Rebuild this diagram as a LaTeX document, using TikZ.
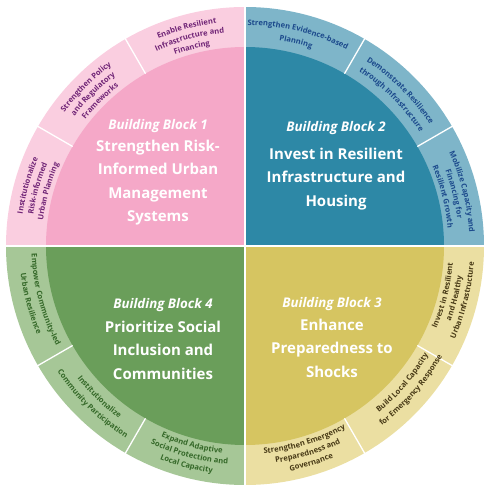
\documentclass[tikz,border=0pt]{standalone}
\usepackage{fontspec}
\setmainfont{Open Sans}
\usetikzlibrary{decorations.text}

\definecolor{pinkin}{RGB}{245,168,200}
\definecolor{pinkring}{RGB}{250,206,224}
\definecolor{pinktxt}{RGB}{112,36,118}
\definecolor{bluein}{RGB}{45,136,166}
\definecolor{bluering}{RGB}{126,181,201}
\definecolor{bluetxt}{RGB}{28,74,140}
\definecolor{yellowin}{RGB}{214,197,97}
\definecolor{yellowring}{RGB}{235,223,162}
\definecolor{yellowtxt}{RGB}{72,58,22}
\definecolor{greenin}{RGB}{106,158,90}
\definecolor{greenring}{RGB}{166,199,151}
\definecolor{greentxt}{RGB}{52,104,40}

\newcommand\ringfont{\bfseries\fontsize{7.6}{8}\selectfont}
% text on the upper half of the ring, read clockwise
\newcommand\ringtop[4]{\path[decorate,decoration={text along path,text align=center,text color=#1,
  text={|\ringfont|#4}}] ({#3+20}:#2) arc[start angle={#3+20},end angle={#3-20},radius=#2];}
% text on the lower half of the ring, read counterclockwise
\newcommand\ringbot[4]{\path[decorate,decoration={text along path,text align=center,text color=#1,
  text={|\ringfont|#4}}] ({#3-20}:#2) arc[start angle={#3-20},end angle={#3+20},radius=#2];}

\begin{document}
\begin{tikzpicture}[x=1pt,y=1pt,
  block/.style={font=\bfseries\itshape\fontsize{13.3}{15}\selectfont, text=white},
  title/.style={font=\bfseries\fontsize{15}{23.5}\selectfont, text=white, align=center},
  gap/.style={white, line width=2pt}]
\useasboundingbox (-245,-246) rectangle (250,246);
% outer ring
\fill[pinkring] (0,0) -- (90:239) arc[start angle=90,end angle=180,radius=239] -- cycle;
\fill[bluering] (0,0) -- (0:239) arc[start angle=0,end angle=90,radius=239] -- cycle;
\fill[yellowring] (0,0) -- (270:239) arc[start angle=270,end angle=360,radius=239] -- cycle;
\fill[greenring] (0,0) -- (180:239) arc[start angle=180,end angle=270,radius=239] -- cycle;
% inner quarters
\fill[pinkin] (0,0) -- (90:199) arc[start angle=90,end angle=180,radius=199] -- cycle;
\fill[bluein] (0,0) -- (0:199) arc[start angle=0,end angle=90,radius=199] -- cycle;
\fill[yellowin] (0,0) -- (270:199) arc[start angle=270,end angle=360,radius=199] -- cycle;
\fill[greenin] (0,0) -- (180:199) arc[start angle=180,end angle=270,radius=199] -- cycle;
% white gaps
\draw[gap] (180:240) -- (0:240);
\draw[gap] (90:240) -- (270:240);
\foreach \a in {30,60,120,150,210,240,300,330}
  \draw[white, line width=1.3pt] (\a:199) -- (\a:240);

% building blocks
\node[block] (bb1) at (-87,120) {Building Block 1};
\node[title] (t1) at (-87,63.5) {Strengthen Risk-\\Informed Urban\\Management\\Systems};
\node[block] (bb2) at (91,118) {Building Block 2};
\node[title] (t2) at (91,67) {Invest in Resilient\\Infrastructure and\\Housing};
\node[block] (bb3) at (87,-58) {Building Block 3};
\node[title] (t3) at (87,-102) {Enhance\\Preparedness to\\Shocks};
\node[block] (bb4) at (-82,-59) {Building Block 4};
\node[title] (t4) at (-82,-104) {Prioritize Social\\Inclusion and\\Communities};

% ring texts, block 1
\ringtop{pinktxt}{224.5}{105}{Enable Resilient}
\ringtop{pinktxt}{214}{105}{Infrastructure and}
\ringtop{pinktxt}{203.5}{105}{Financing}
\ringtop{pinktxt}{224.5}{135}{Strengthen Policy}
\ringtop{pinktxt}{214}{135}{and Regulatory}
\ringtop{pinktxt}{203.5}{135}{Frameworks}
\ringtop{pinktxt}{224.5}{164.5}{Institutionalize}
\ringtop{pinktxt}{214}{164.5}{Risk-informed}
\ringtop{pinktxt}{203.5}{164.5}{Urban Planning}
% block 2
\ringtop{bluetxt}{221}{76}{Strengthen Evidence-based}
\ringtop{bluetxt}{208.5}{76}{Planning}
\ringtop{bluetxt}{221}{45}{Demonstrate Resilience}
\ringtop{bluetxt}{208.5}{45}{through Infrastructure}
\ringtop{bluetxt}{224.5}{14}{Mobilize Capacity and}
\ringtop{bluetxt}{214}{14}{Financing for}
\ringtop{bluetxt}{203.5}{14}{Resilient Growth}
% block 3
\ringbot{yellowtxt}{208.5}{-14}{Invest in Resilient}
\ringbot{yellowtxt}{219}{-14}{and Healthy}
\ringbot{yellowtxt}{229.5}{-14}{Urban Infrastructure}
\ringbot{yellowtxt}{213.5}{-41}{Build Local Capacity}
\ringbot{yellowtxt}{226}{-41}{for Emergency Response}
\ringbot{yellowtxt}{208.5}{-73}{Strengthen Emergency}
\ringbot{yellowtxt}{219}{-73}{Preparedness and}
\ringbot{yellowtxt}{229.5}{-73}{Governance}
% block 4
\ringbot{greentxt}{213.5}{195}{Empower Community-led}
\ringbot{greentxt}{226}{195}{Urban Resilience}
\ringbot{greentxt}{213.5}{226}{Institutionalize}
\ringbot{greentxt}{226}{226}{Community Participation}
\ringbot{greentxt}{208.5}{255}{Expand Adaptive}
\ringbot{greentxt}{219}{255}{Social Protection and}
\ringbot{greentxt}{229.5}{255}{Local Capacity}
\end{tikzpicture}
\end{document}
